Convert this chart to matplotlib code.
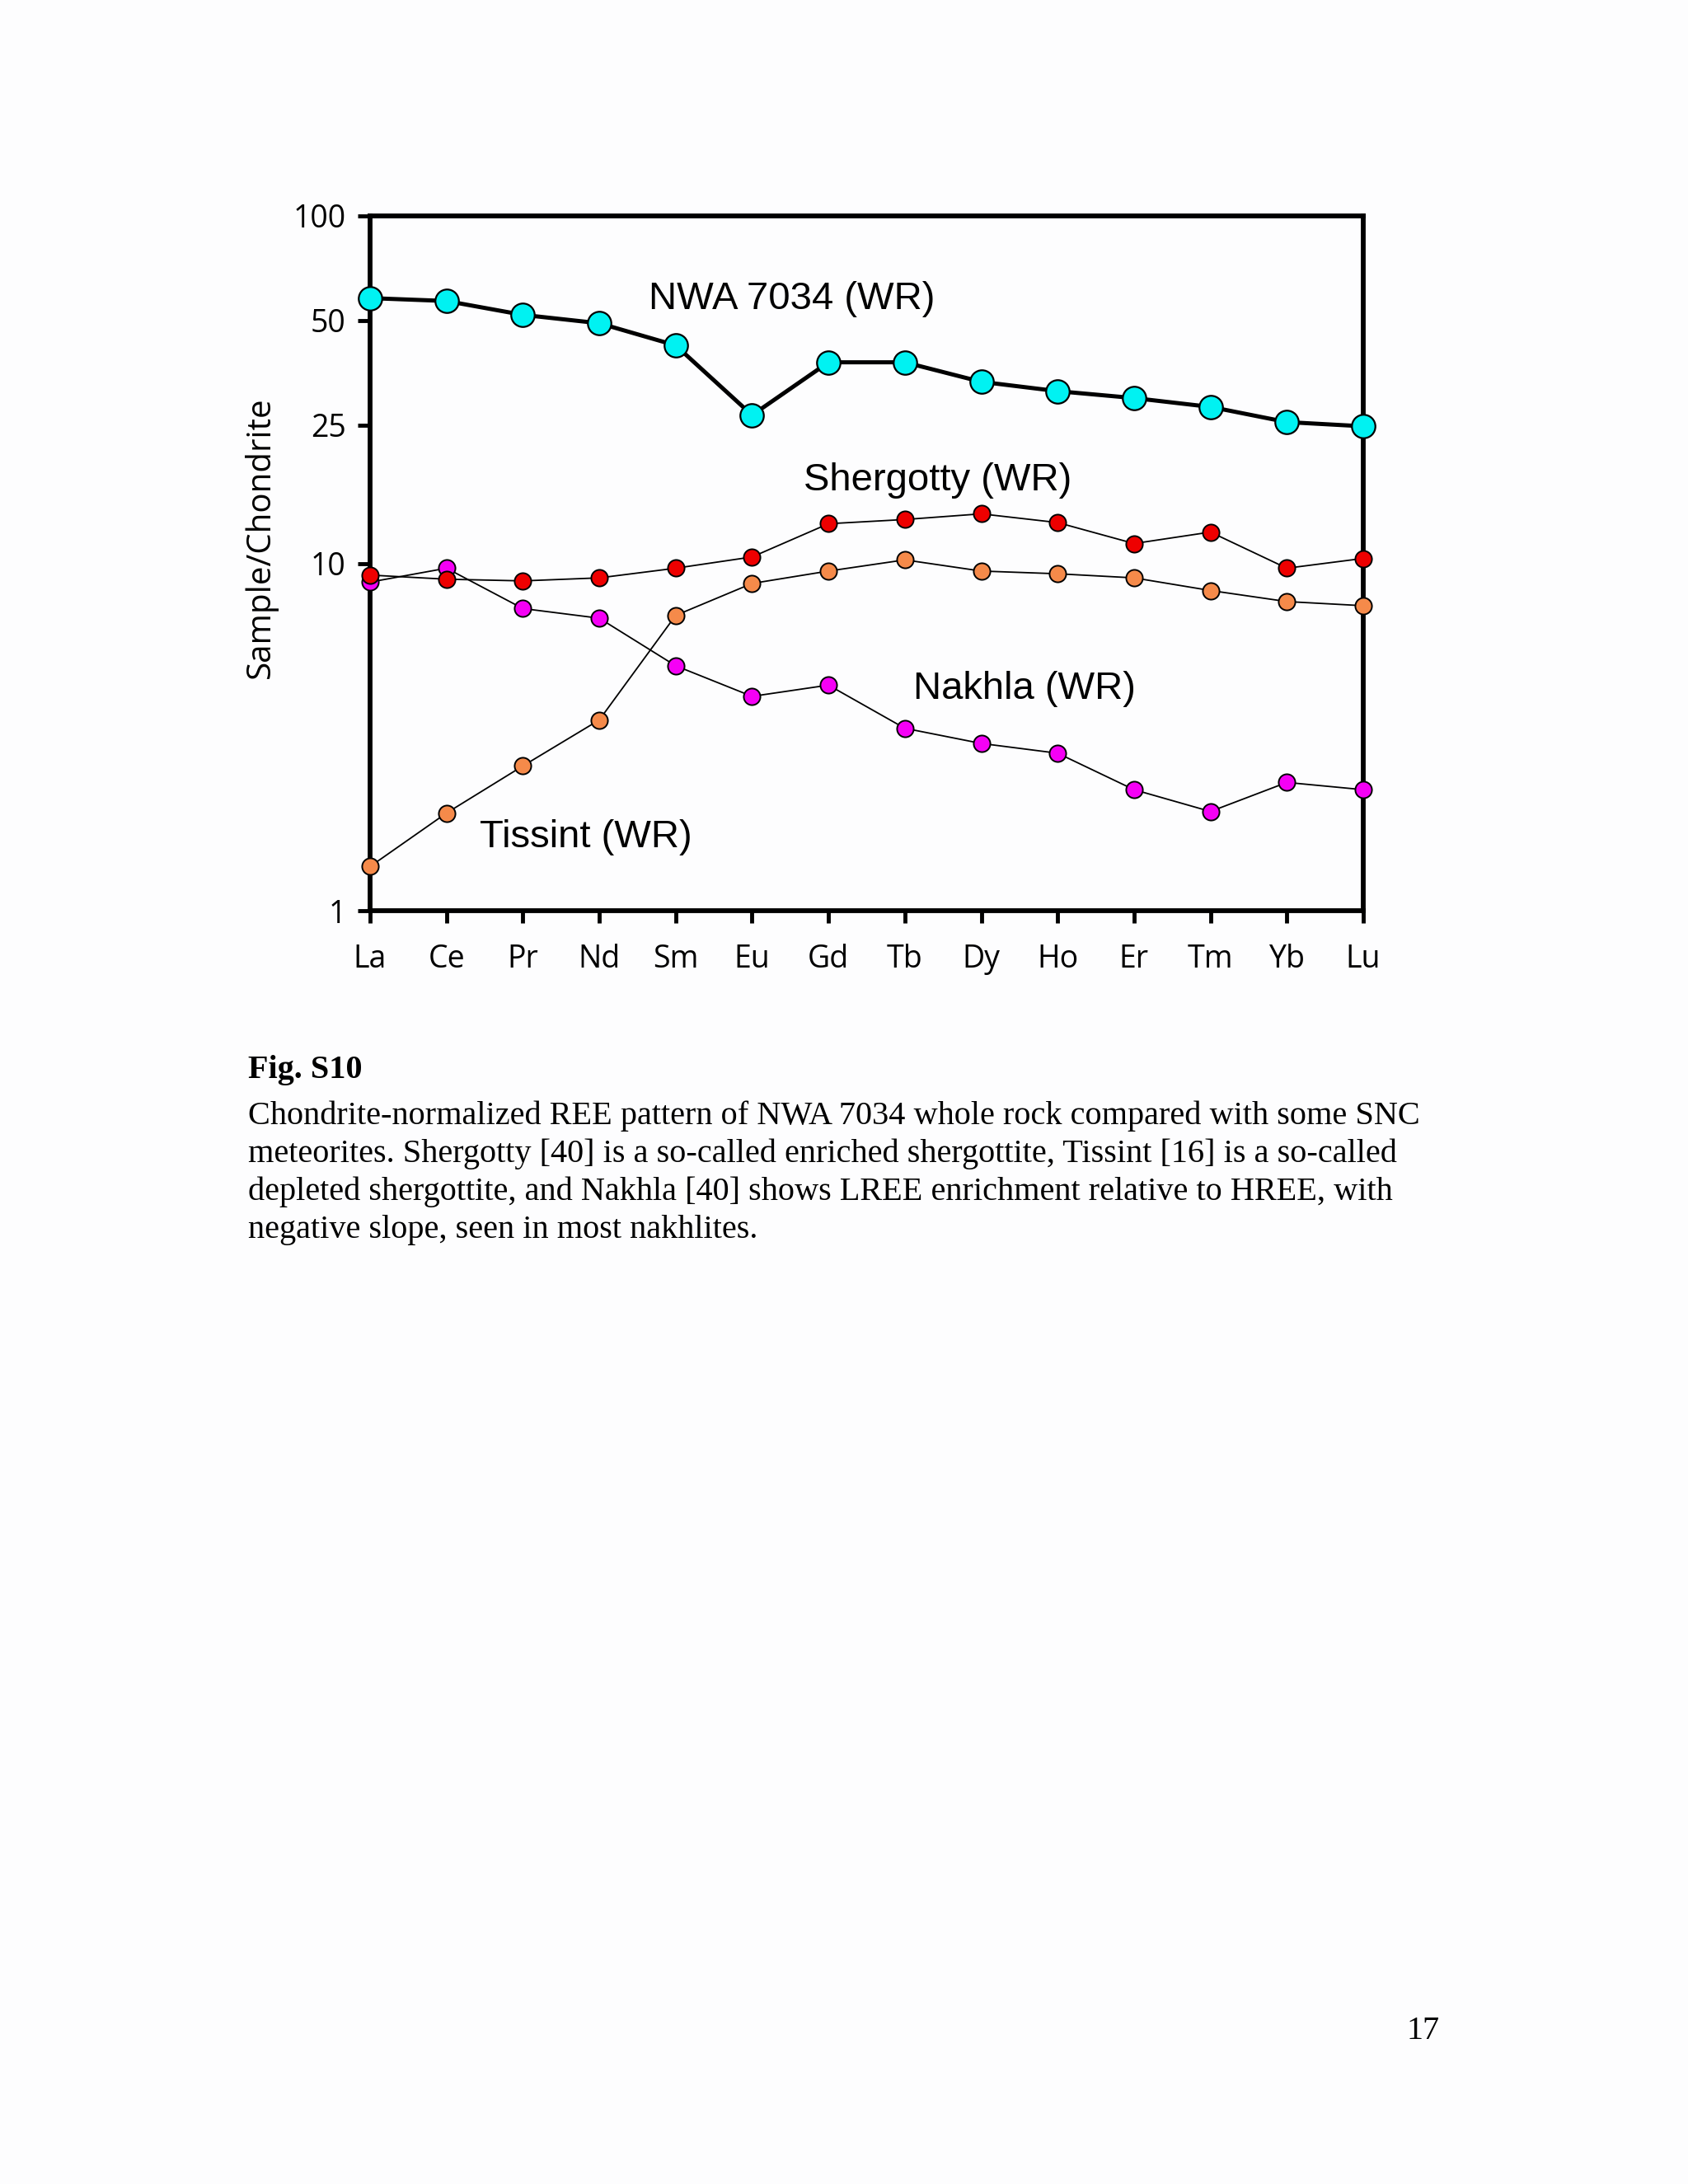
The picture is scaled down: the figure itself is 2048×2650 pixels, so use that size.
import matplotlib
matplotlib.use("Agg")
import matplotlib.pyplot as plt
from matplotlib.ticker import FixedLocator, FixedFormatter, NullLocator

elements = ["La", "Ce", "Pr", "Nd", "Sm", "Eu", "Gd", "Tb", "Dy", "Ho", "Er", "Tm", "Yb", "Lu"]
nwa7034 = [58.0, 56.9, 51.9, 49.1, 42.4, 26.7, 37.9, 37.9, 33.3, 31.3, 29.9, 28.2, 25.5, 24.8]
shergotty = [9.25, 9.0, 8.9, 9.08, 9.68, 10.43, 13.0, 13.37, 13.88, 13.1, 11.4, 12.3, 9.68, 10.33]
tissint = [1.34, 1.91, 2.61, 3.54, 7.08, 8.75, 9.5, 10.23, 9.5, 9.33, 9.08, 8.35, 7.76, 7.55]
nakhla = [8.83, 9.68, 7.41, 6.95, 5.07, 4.14, 4.46, 3.35, 3.03, 2.84, 2.23, 1.93, 2.34, 2.23]
ytick_values = [1, 10, 25, 50, 100]
ytick_labels = ["1", "10", "25", "50", "100"]

caption_title = "Fig. S10"
caption_lines = [
    "Chondrite-normalized REE pattern of NWA 7034 whole rock compared with some SNC",
    "meteorites. Shergotty [40] is a so-called enriched shergottite, Tissint [16] is a so-called",
    "depleted shergottite, and Nakhla [40] shows LREE enrichment relative to HREE, with",
    "negative slope, seen in most nakhlites.",
]
page_number = "17"

W, H = 2048, 2650
bg = "#fdfdfe"
fig = plt.figure(figsize=(W / 100, H / 100), dpi=100)
fig.patch.set_facecolor(bg)

ax = fig.add_axes([449 / W, 1 - 1105 / H, (1654 - 449) / W, (1105 - 262) / H])
ax.set_facecolor(bg)
x = list(range(len(elements)))

thin = 1.3
small = 14.5
ax.plot(x, tissint, color="black", lw=thin, marker="o", ms=small, mfc="#f58a4a",
        mec="black", mew=1.4, clip_on=False, zorder=3)
ax.plot(x, nakhla, color="black", lw=thin, marker="o", ms=small, mfc="#f500f5",
        mec="black", mew=1.4, clip_on=False, zorder=4)
ax.plot(x, shergotty, color="black", lw=thin, marker="o", ms=small, mfc="#ee0000",
        mec="black", mew=1.4, clip_on=False, zorder=5)
ax.plot(x, nwa7034, color="black", lw=3.6, marker="o", ms=20.5, mfc="#00f2f2",
        mec="black", mew=1.6, clip_on=False, zorder=6)

ax.set_yscale("log")
ax.set_ylim(1, 100)
ax.set_xlim(0, len(elements) - 1)
ax.yaxis.set_major_locator(FixedLocator(ytick_values))
ax.yaxis.set_major_formatter(FixedFormatter(ytick_labels))
ax.yaxis.set_minor_locator(NullLocator())
ax.set_xticks(x)
ax.set_xticklabels(elements)

tickfont = "Open Sans"
for lab in ax.get_xticklabels() + ax.get_yticklabels():
    lab.set_fontfamily(tickfont)
    lab.set_fontsize(27)
ax.tick_params(axis="both", direction="out", length=11, width=3.5)
ax.tick_params(axis="y", pad=10)
ax.tick_params(axis="x", pad=18)
for s in ax.spines.values():
    s.set_linewidth(4.2)

ax.set_ylabel("Sample/Chondrite", fontfamily=tickfont, fontsize=29)
ax.yaxis.set_label_coords(-0.093, 0.537)

lab_kw = dict(fontfamily="Liberation Sans", fontsize=34, va="center", ha="left", zorder=7)
ax.text(3.65, 57.5, "NWA 7034 (WR)", **lab_kw)
ax.text(5.67, 17.3, "Shergotty (WR)", **lab_kw)
ax.text(7.11, 4.34, "Nakhla (WR)", **lab_kw)
ax.text(1.44, 1.63, "Tissint (WR)", **lab_kw)

serif = "Liberation Serif"
fig.text(301 / W, 1 - 1308 / H, caption_title, fontfamily=serif, fontweight="bold",
         fontsize=29, ha="left", va="baseline")
for i, line in enumerate(caption_lines):
    fig.text(301 / W, 1 - (1364 + 46 * i) / H, line, fontfamily=serif, fontsize=29,
             ha="left", va="baseline")
fig.text(1727 / W, 1 - 2464 / H, page_number, fontfamily=serif, fontsize=29,
         ha="center", va="center")

fig.savefig("out.png", dpi=100, facecolor=fig.get_facecolor())
